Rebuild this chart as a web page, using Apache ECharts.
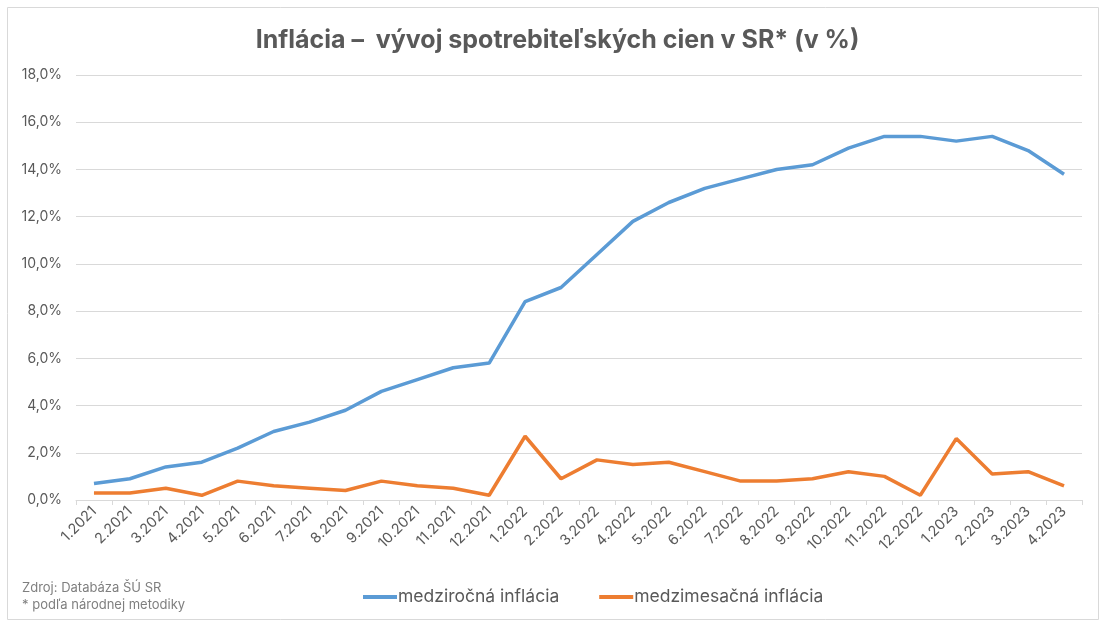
<!DOCTYPE html>
<html>
<head>
<meta charset="utf-8">
<script src="https://cdn.jsdelivr.net/npm/echarts@6/dist/echarts.min.js"></script>
<style>
  html, body { margin: 0; padding: 0; background: #fff; }
  #main { width: 1115px; height: 633px; }
</style>
</head>
<body>
<div id="main"></div>
<script>
  // mesiace
  const months = [
    '1.2021', '2.2021', '3.2021', '4.2021', '5.2021', '6.2021', '7.2021',
    '8.2021', '9.2021', '10.2021', '11.2021', '12.2021',
    '1.2022', '2.2022', '3.2022', '4.2022', '5.2022', '6.2022', '7.2022',
    '8.2022', '9.2022', '10.2022', '11.2022', '12.2022',
    '1.2023', '2.2023', '3.2023', '4.2023'
  ];
  // medzirocna inflacia (%)
  const yoy = [
    0.7, 0.9, 1.4, 1.6, 2.2, 2.9, 3.3, 3.8, 4.6, 5.1, 5.6, 5.8,
    8.4, 9.0, 10.4, 11.8, 12.6, 13.2, 13.6, 14.0, 14.2, 14.9, 15.4, 15.4,
    15.2, 15.4, 14.8, 13.8
  ];
  // medzimesacna inflacia (%)
  const mom = [
    0.3, 0.3, 0.5, 0.2, 0.8, 0.6, 0.5, 0.4, 0.8, 0.6, 0.5, 0.2,
    2.7, 0.9, 1.7, 1.5, 1.6, 1.2, 0.8, 0.8, 0.9, 1.2, 1.0, 0.2,
    2.6, 1.1, 1.2, 0.6
  ];
  const seriesNames = ['medziročná inflácia', 'medzimesačná inflácia'];

  const font = 'Inter, "Noto Sans", sans-serif';
  const chart = echarts.init(document.getElementById('main'));

  const option = {
    animation: false,
    textStyle: { fontFamily: font },
    title: {
      text: 'Inflácia –  vývoj spotrebiteľských cien v SR* (v %)',
      left: 'center',
      top: 23,
      textStyle: { fontSize: 25, fontWeight: 'bold', color: '#595959', fontFamily: font }
    },
    graphic: [
      {
        type: 'rect',
        shape: { x: 7.5, y: 7.5, width: 1091, height: 612 },
        style: { fill: 'none', stroke: '#d9d9d9', lineWidth: 1 },
        silent: true
      },
      {
        type: 'text',
        left: 22,
        top: 580,
        style: {
          text: 'Zdroj: Databáza ŠÚ SR\n* podľa národnej metodiky',
          fill: '#7f7f7f',
          font: '13px ' + font,
          lineHeight: 17
        }
      }
    ],
    legend: {
      data: seriesNames,
      bottom: 22,
      left: 358,
      itemWidth: 34,
      itemHeight: 4,
      itemGap: 40,
      icon: 'rect',
      textStyle: { fontSize: 17.5, color: '#595959', padding: [0, 0, 0, -4] }
    },
    grid: { left: 76, right: 33, top: 75, bottom: 133 },
    xAxis: {
      type: 'category',
      data: months,
      boundaryGap: true,
      axisLine: { lineStyle: { color: '#d9d9d9' } },
      axisTick: { show: true, alignWithLabel: false, lineStyle: { color: '#d9d9d9' }, length: 5 },
      axisLabel: { rotate: 45, interval: 0, color: '#595959', fontSize: 14.5, margin: 9 }
    },
    yAxis: {
      type: 'value',
      min: 0,
      max: 18,
      interval: 2,
      axisLine: { show: false },
      axisTick: { show: false },
      splitLine: { lineStyle: { color: '#d9d9d9' } },
      axisLabel: {
        color: '#595959',
        fontSize: 14,
        margin: 14,
        formatter: v => v.toFixed(1).replace('.', ',') + '%'
      }
    },
    series: [
      {
        name: seriesNames[0],
        type: 'line',
        data: yoy,
        symbol: 'none',
        lineStyle: { width: 3.5, color: '#5b9bd5' },
        itemStyle: { color: '#5b9bd5' }
      },
      {
        name: seriesNames[1],
        type: 'line',
        data: mom,
        symbol: 'none',
        lineStyle: { width: 3.5, color: '#ed7d31' },
        itemStyle: { color: '#ed7d31' }
      }
    ]
  };
  chart.setOption(option);
</script>
</body>
</html>
